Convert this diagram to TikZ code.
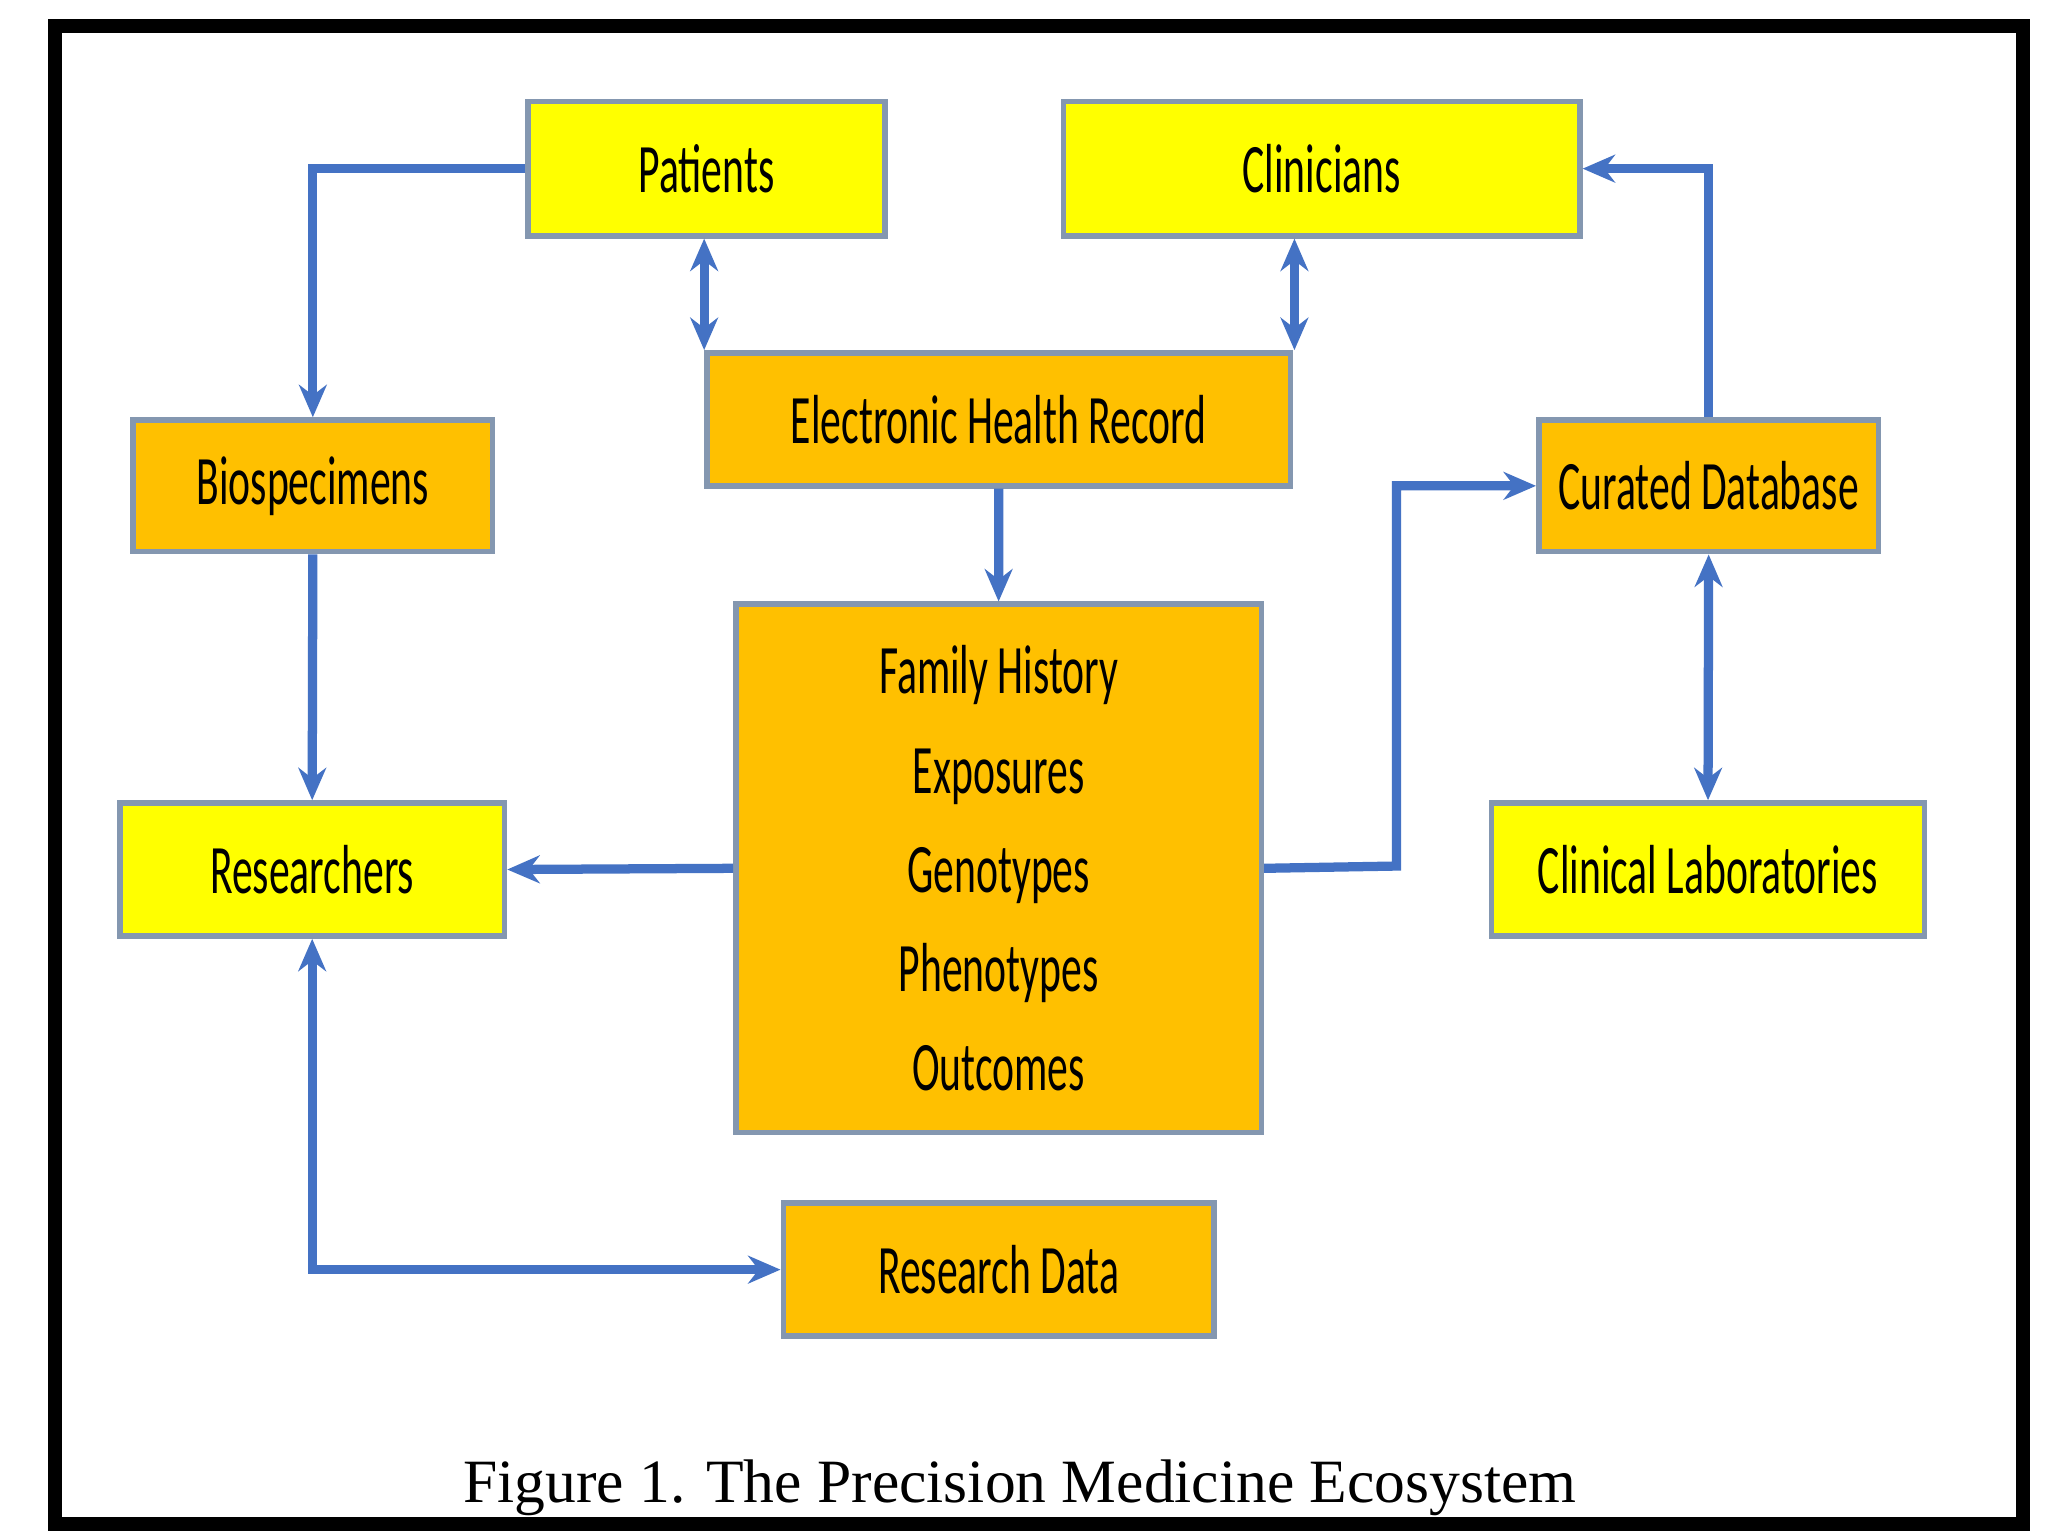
\documentclass[tikz,border=0pt]{standalone}
\usepackage{fontspec}
\setmainfont[FakeStretch=0.6]{Carlito}
\newfontfamily\capfont{Liberation Serif}
\usetikzlibrary{arrows.meta}
\definecolor{yel}{HTML}{FFFF00}
\definecolor{org}{HTML}{FFC000}
\definecolor{conn}{HTML}{4472C4}
\definecolor{edge}{HTML}{8497B0}
\begin{document}
\begin{tikzpicture}[x=0.01cm,y=-0.01cm,
  bx/.style={draw=edge,line width=1.2pt,inner sep=0pt,anchor=north west,font=\fontsize{15}{18}\selectfont,align=center},
  cn/.style={draw=conn,line width=2pt,-{Stealth[length=7pt,width=6pt]}},
  cc/.style={draw=conn,line width=2pt,{Stealth[length=7pt,width=6pt]}-{Stealth[length=7pt,width=6pt]}}]
\useasboundingbox (0,0) rectangle (1556,1167);
\fill[white] (0,0) rectangle (1556,1167);
\draw[line width=3pt] (42,20) rectangle (1537,1158);
\node[bx,fill=yel,minimum width=2.71cm,minimum height=1.02cm] (pat) at (399,75) {Patients};
\node[bx,fill=yel,minimum width=3.92cm,minimum height=1.02cm] (cli) at (806,75) {Clinicians};
\node[bx,fill=org,minimum width=4.43cm,minimum height=1.01cm] (ehr) at (535,266) {Electronic Health Record};
\node[bx,fill=org,minimum width=2.73cm,minimum height=1.00cm] (bio) at (99,317) {Biospecimens};
\node[bx,fill=org,minimum width=2.58cm,minimum height=1.00cm] (cur) at (1167,317) {Curated Database};
\node[bx,fill=org,minimum width=3.99cm,minimum height=4.01cm] (fam) at (557,457) {Family History\\[0.12cm]Exposures\\[0.12cm]Genotypes\\[0.12cm]Phenotypes\\[0.12cm]Outcomes};
\node[bx,fill=yel,minimum width=2.92cm,minimum height=1.01cm] (res) at (89,608) {Researchers};
\node[bx,fill=yel,minimum width=3.29cm,minimum height=1.01cm] (lab) at (1131,608) {Clinical Laboratories};
\node[bx,fill=org,minimum width=3.27cm,minimum height=1.01cm] (rd) at (593,912) {Research Data};
\node (cap) at (775,1130) {\capfont\fontsize{13.3}{16}\selectfont Figure 1. The Precision Medicine Ecosystem};
\draw[cn] (pat.west) -| (bio.north);
\draw[cc] (pat.south west) ++(136,0) coordinate (p1) -- (p1 |- ehr.north);
\draw[cc] (ehr.north east) ++(1,0) coordinate (e1) -- (e1 |- cli.south);
\draw[cn] (cur.north) |- (cli.east);
\draw[cn] (ehr.south) -- (fam.north);
\draw[cn] (bio.south) -- (res.north);
\draw[cn] (fam.west) -- (res.east);
\coordinate (j) at (1061,658);
\draw[cn] (fam.east) -- (j) |- (cur.west);
\draw[cc] (cur.south) -- (lab.north);
\draw[cc] (res.south) |- (rd.west);
\end{tikzpicture}
\end{document}
